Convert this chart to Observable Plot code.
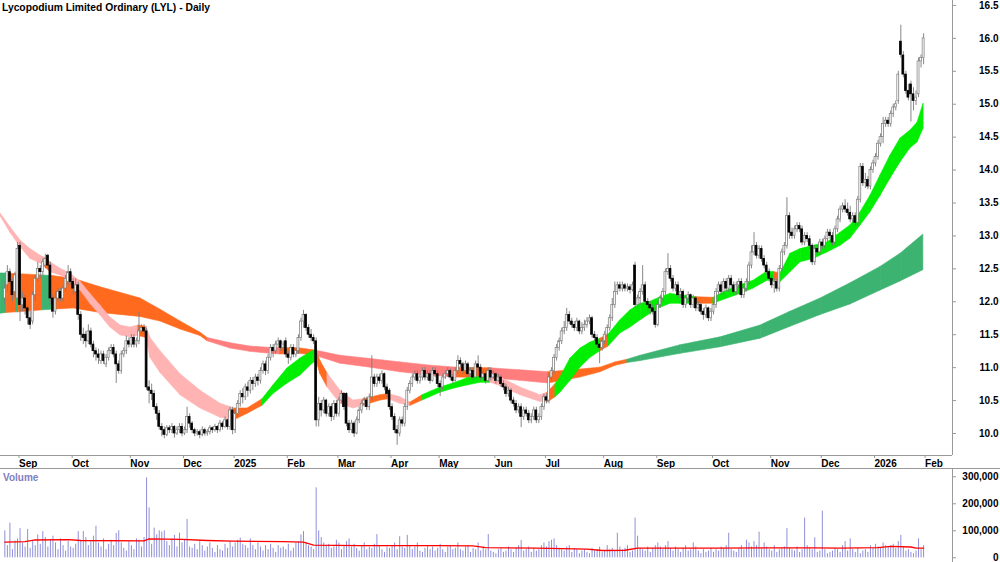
<!DOCTYPE html>
<html><head><meta charset="utf-8">
<script src="https://cdn.jsdelivr.net/npm/d3@7"></script>
<script src="https://cdn.jsdelivr.net/npm/@observablehq/plot@0.6"></script>
<style>
body{margin:0;background:#fff;}
#wrap{position:relative;width:1000px;height:562px;overflow:hidden;}
#title{position:absolute;left:2px;top:3px;font:bold 10.3px "Liberation Sans",Arial,sans-serif;line-height:10px;color:#000;white-space:nowrap;}
#vlabel{position:absolute;left:3px;top:473px;font:bold 10px "Liberation Sans",Arial,sans-serif;line-height:10px;color:#8080c0;}
#sep{position:absolute;left:0;top:468px;width:1000px;height:1px;background:#999;}
svg{display:block;}
</style></head>
<body>
<div id="wrap">
  <div id="chart"></div>
  <div id="title">Lycopodium Limited Ordinary (LYL) - Daily</div>
  <div id="sep"></div>
  <div id="vlabel">Volume</div>
</div>
<script>
// ---- Month axis (trading-day index of first bar in month) ----
const monthIdx = [5,26,49,70,90,111,131,152,171,193,213,236,257,279,302,322,343,363];
const monthLabels = ["Sep","Oct","Nov","Dec","2025","Feb","Mar","Apr","May","Jun","Jul","Aug","Sep","Oct","Nov","Dec","2026","Feb"];
const priceTicks = [10.0,10.5,11.0,11.5,12.0,12.5,13.0,13.5,14.0,14.5,15.0,15.5,16.0,16.5];
const volTicks = [0,100000,200000,300000];

// ---- Daily OHLC ----
const open = [
12.05,12.25,12.45,12.30,12.15,12.05,12.85,11.95,12.05,11.90,
11.75,11.70,12.10,12.35,12.50,12.45,12.55,12.70,12.55,12.05,
11.85,12.05,12.15,12.05,12.20,12.30,12.45,12.30,12.15,12.25,
11.80,11.50,11.50,11.40,11.55,11.35,11.25,11.20,11.10,11.20,
11.05,11.15,11.25,11.30,11.20,11.05,10.95,11.20,11.25,11.40,
11.35,11.45,11.35,11.40,11.55,11.60,11.55,10.70,10.65,10.60,
10.40,10.30,10.10,10.05,9.98,10.08,10.05,10.10,10.00,10.05,
10.10,10.00,10.05,10.25,10.15,10.05,10.00,10.02,9.98,10.05,
10.00,10.02,10.08,10.05,10.10,10.05,10.15,10.10,10.20,10.10,
10.35,10.05,10.30,10.45,10.60,10.55,10.70,10.65,10.80,10.75,
10.85,10.80,10.95,11.05,10.95,11.15,11.30,11.25,11.35,11.40,
11.30,11.40,11.20,11.15,11.30,11.20,11.25,11.45,11.70,11.80,
11.60,11.50,11.45,11.40,10.20,10.45,10.35,10.50,10.30,10.40,
10.25,10.45,10.30,10.50,10.60,10.60,10.15,10.05,10.15,10.00,
10.20,10.35,10.45,10.50,10.40,10.55,10.85,10.75,10.85,10.80,
10.90,10.70,10.65,10.40,10.25,10.05,10.00,10.20,10.15,10.40,
10.65,10.75,10.85,10.90,10.80,10.85,10.95,10.85,10.90,10.80,
10.95,10.90,10.75,10.70,10.85,10.90,10.95,10.85,10.80,10.95,
11.10,11.05,10.95,11.05,10.90,10.95,10.85,11.05,11.00,10.85,
10.90,10.80,10.95,10.85,10.90,10.80,10.85,10.75,10.70,10.60,
10.65,10.50,10.45,10.35,10.40,10.25,10.35,10.30,10.20,10.25,
10.35,10.20,10.25,10.40,10.55,10.50,10.85,10.95,11.15,11.30,
11.40,11.55,11.60,11.80,11.70,11.65,11.60,11.70,11.55,11.60,
11.65,11.70,11.75,11.50,11.45,11.35,11.30,11.40,11.50,11.60,
11.75,11.95,12.15,12.25,12.20,12.25,12.20,12.22,12.18,12.55,
11.95,12.05,12.15,12.25,12.00,11.95,11.90,11.85,11.65,11.95,
12.05,12.15,12.45,12.50,12.35,12.20,12.25,12.10,12.15,11.95,
12.05,12.10,11.95,12.05,11.90,11.95,11.85,11.80,11.90,11.75,
11.85,11.95,12.15,12.25,12.15,12.30,12.20,12.35,12.25,12.15,
12.25,12.30,12.10,12.20,12.30,12.55,12.75,12.85,12.70,12.80,
12.65,12.55,12.45,12.35,12.25,12.30,12.20,12.50,12.75,12.85,
13.30,13.05,13.00,13.10,13.15,13.10,12.90,13.00,12.95,12.85,
12.60,12.80,12.75,12.90,12.85,12.95,13.05,13.00,12.90,13.10,
13.25,13.40,13.45,13.40,13.35,13.25,13.30,13.20,13.55,14.05,
13.80,13.85,13.75,14.00,14.10,14.20,14.40,14.50,14.70,14.75,
14.70,14.85,14.95,15.05,15.95,15.74,15.45,15.20,15.30,15.15,
15.05,15.15,15.65,15.70];
const high = [
12.30,12.55,12.50,12.35,12.45,12.90,12.90,12.15,12.10,11.95,
11.85,12.15,12.40,12.60,12.55,12.65,12.72,12.72,12.60,12.10,
12.15,12.20,12.20,12.25,12.40,12.55,12.50,12.35,12.35,12.30,
11.85,11.60,11.55,11.65,11.60,11.40,11.30,11.28,11.25,11.25,
11.20,11.30,11.35,11.35,11.25,11.10,11.25,11.30,11.48,11.45,
11.50,11.50,11.45,11.84,11.65,11.65,11.60,10.80,10.75,10.65,
10.45,10.35,10.15,10.10,10.12,10.12,10.15,10.12,10.10,10.15,
10.15,10.10,10.40,10.30,10.18,10.08,10.06,10.05,10.10,10.08,
10.06,10.12,10.10,10.14,10.12,10.20,10.18,10.25,10.22,10.40,
10.40,10.35,10.50,10.65,10.68,10.75,10.78,10.85,10.85,10.90,
10.90,11.00,11.10,11.10,11.20,11.35,11.35,11.40,11.45,11.42,
11.40,11.45,11.25,11.35,11.35,11.30,11.50,11.75,11.87,11.82,
11.65,11.58,11.50,11.45,10.55,10.50,10.55,10.52,10.45,10.45,
10.50,10.50,10.55,10.65,10.62,10.62,10.20,10.20,10.18,10.25,
10.40,10.50,10.55,10.55,10.60,11.18,10.90,10.90,10.90,10.95,
10.92,10.75,10.68,10.45,10.30,10.12,10.25,10.25,10.45,10.70,
10.80,10.90,10.95,10.95,10.90,11.00,11.00,10.95,10.95,11.00,
11.00,10.95,10.80,10.90,10.95,11.00,10.98,10.90,11.00,11.18,
11.15,11.08,11.10,11.08,11.00,11.00,11.10,11.18,11.05,10.95,
10.95,11.00,11.00,10.95,10.92,10.90,10.88,10.80,10.75,10.70,
10.68,10.55,10.50,10.45,10.45,10.40,10.40,10.35,10.30,10.40,
10.40,10.30,10.45,10.60,10.60,10.90,11.00,11.20,11.35,11.45,
11.60,11.70,11.90,11.85,11.75,11.70,11.75,11.72,11.68,11.72,
11.76,11.80,11.78,11.55,11.50,11.40,11.45,11.55,11.65,11.80,
12.05,12.30,12.30,12.30,12.30,12.28,12.27,12.26,12.30,12.60,
12.10,12.20,12.55,12.30,12.05,12.00,11.95,11.90,12.00,12.10,
12.20,12.50,12.73,12.55,12.40,12.30,12.30,12.20,12.18,12.10,
12.15,12.12,12.10,12.08,12.00,11.98,11.90,11.95,11.92,11.90,
12.00,12.20,12.30,12.30,12.35,12.35,12.40,12.40,12.30,12.30,
12.35,12.35,12.25,12.35,12.60,12.85,13.05,12.90,12.85,12.85,
12.70,12.60,12.50,12.40,12.35,12.35,12.55,12.80,12.90,13.58,
13.35,13.12,13.15,13.20,13.20,13.15,13.05,13.05,13.00,12.88,
12.85,12.85,12.95,12.95,13.00,13.10,13.10,13.05,13.15,13.30,
13.45,13.50,13.55,13.50,13.45,13.35,13.35,13.60,14.10,14.10,
13.95,13.90,14.05,14.15,14.25,14.45,14.55,14.80,14.80,14.80,
14.90,15.00,15.05,15.50,16.20,15.80,15.50,15.30,15.35,15.25,
15.20,15.70,15.75,16.07];
const low = [
11.95,12.15,12.25,12.00,12.05,11.95,11.70,11.85,11.80,11.65,
11.58,11.65,12.00,12.30,12.35,12.40,12.50,12.50,11.95,11.75,
11.80,12.00,12.00,12.00,12.15,12.25,12.25,12.10,12.10,11.72,
11.40,11.35,11.30,11.35,11.30,11.15,11.10,11.05,11.05,11.05,
11.00,11.10,11.20,11.15,10.76,10.90,10.90,11.15,11.20,11.30,
11.30,11.30,11.30,11.35,11.50,11.50,10.65,10.45,10.50,10.35,
10.20,10.05,9.95,9.92,9.95,10.00,10.00,9.93,9.97,10.00,
9.95,9.97,10.00,10.08,10.00,9.95,9.96,9.92,9.95,9.96,
9.96,9.98,10.00,10.02,10.00,10.02,10.05,10.08,10.05,10.05,
9.98,10.00,10.25,10.40,10.45,10.50,10.55,10.60,10.65,10.70,
10.72,10.75,10.90,10.88,10.90,11.10,11.15,11.20,11.30,11.25,
11.25,11.15,11.05,11.10,11.15,11.15,11.20,11.40,11.60,11.55,
11.45,11.40,11.35,10.10,10.10,10.25,10.30,10.25,10.25,10.18,
10.20,10.25,10.25,10.45,10.35,10.10,10.00,10.00,9.94,9.98,
10.15,10.30,10.40,10.35,10.35,10.50,10.70,10.70,10.75,10.75,
10.65,10.55,10.35,10.20,10.00,9.82,9.95,10.10,10.10,10.35,
10.60,10.70,10.80,10.75,10.75,10.80,10.80,10.80,10.75,10.78,
10.85,10.70,10.56,10.65,10.82,10.85,10.80,10.75,10.78,10.90,
11.00,10.90,10.90,10.85,10.85,10.80,10.82,10.95,10.80,10.82,
10.75,10.78,10.80,10.82,10.75,10.78,10.70,10.65,10.55,10.55,
10.45,10.40,10.30,10.30,10.09,10.20,10.25,10.15,10.15,10.20,
10.15,10.15,10.20,10.35,10.45,10.45,10.80,10.90,11.10,11.25,
11.35,11.50,11.55,11.65,11.60,11.55,11.55,11.50,11.50,11.55,
11.60,11.65,11.45,11.40,11.30,11.06,11.25,11.35,11.45,11.55,
11.70,11.90,12.10,12.15,12.15,12.15,12.15,12.12,12.15,11.90,
11.90,11.95,12.10,11.95,11.85,11.80,11.80,11.60,11.62,11.90,
12.00,12.10,12.40,12.30,12.15,12.15,12.05,12.05,11.90,11.90,
12.00,11.90,11.90,11.85,11.85,11.80,11.72,11.75,11.70,11.70,
11.80,11.90,12.10,12.10,12.10,12.15,12.15,12.20,12.10,12.10,
12.20,12.05,12.05,12.15,12.25,12.50,12.70,12.65,12.65,12.60,
12.50,12.40,12.30,12.20,12.13,12.15,12.15,12.45,12.70,12.80,
12.95,12.95,12.95,13.05,13.05,12.85,12.85,12.90,12.80,12.55,
12.55,12.70,12.70,12.80,12.80,12.90,12.95,12.85,12.85,13.05,
13.20,13.35,13.35,13.30,13.20,13.20,13.15,13.15,13.50,13.75,
13.72,13.70,13.70,13.95,14.05,14.15,14.35,14.40,14.65,14.65,
14.65,14.80,14.90,15.00,15.70,15.40,15.15,15.05,14.73,14.90,
14.98,15.10,15.55,15.60];
const close = [
12.20,12.45,12.30,12.10,12.40,12.80,11.95,12.05,11.90,11.75,
11.65,12.10,12.35,12.50,12.45,12.60,12.65,12.55,12.05,11.85,
12.05,12.15,12.05,12.20,12.35,12.45,12.30,12.20,12.25,11.80,
11.50,11.45,11.40,11.55,11.35,11.25,11.20,11.15,11.20,11.10,
11.15,11.25,11.30,11.20,11.05,10.95,11.20,11.25,11.40,11.35,
11.45,11.35,11.40,11.55,11.60,11.55,10.70,10.65,10.60,10.40,
10.30,10.10,10.05,9.98,10.08,10.05,10.10,10.00,10.05,10.10,
10.00,10.05,10.25,10.15,10.05,10.00,10.02,9.98,10.05,10.00,
10.02,10.08,10.05,10.10,10.05,10.15,10.10,10.20,10.10,10.35,
10.05,10.30,10.45,10.60,10.55,10.70,10.65,10.80,10.75,10.85,
10.80,10.95,11.05,10.95,11.15,11.30,11.25,11.35,11.40,11.30,
11.35,11.20,11.15,11.30,11.20,11.25,11.45,11.70,11.80,11.60,
11.50,11.45,11.40,10.20,10.45,10.35,10.50,10.30,10.40,10.25,
10.45,10.30,10.50,10.60,10.40,10.15,10.05,10.15,10.00,10.20,
10.35,10.45,10.50,10.40,10.55,10.85,10.75,10.85,10.80,10.90,
10.70,10.60,10.40,10.25,10.05,10.00,10.20,10.15,10.40,10.65,
10.75,10.85,10.90,10.80,10.85,10.95,10.85,10.90,10.80,10.95,
10.90,10.75,10.70,10.85,10.90,10.95,10.85,10.80,10.95,11.10,
11.05,10.95,11.05,10.90,10.95,10.85,11.05,11.00,10.85,10.90,
10.80,10.95,10.85,10.90,10.80,10.85,10.75,10.70,10.60,10.65,
10.50,10.45,10.35,10.40,10.25,10.35,10.30,10.20,10.25,10.35,
10.20,10.25,10.40,10.55,10.50,10.85,10.95,11.15,11.30,11.40,
11.55,11.60,11.80,11.70,11.65,11.60,11.70,11.55,11.60,11.65,
11.70,11.75,11.50,11.45,11.35,11.30,11.40,11.50,11.60,11.75,
11.95,12.15,12.25,12.20,12.25,12.20,12.22,12.18,12.25,11.95,
12.05,12.15,12.25,12.00,11.95,11.90,11.85,11.65,11.95,12.05,
12.15,12.45,12.50,12.35,12.20,12.25,12.10,12.15,11.95,12.05,
12.10,11.95,12.05,11.90,11.95,11.85,11.80,11.90,11.75,11.85,
11.95,12.15,12.25,12.15,12.30,12.20,12.35,12.25,12.15,12.25,
12.30,12.10,12.20,12.30,12.55,12.75,12.85,12.70,12.80,12.65,
12.55,12.45,12.35,12.25,12.30,12.20,12.50,12.75,12.85,13.30,
13.05,13.00,13.10,13.15,13.10,12.90,13.00,12.95,12.85,12.60,
12.80,12.75,12.90,12.85,12.95,13.05,13.00,12.90,13.10,13.25,
13.40,13.45,13.40,13.35,13.25,13.30,13.20,13.55,14.05,13.80,
13.85,13.75,14.00,14.10,14.20,14.40,14.50,14.70,14.75,14.70,
14.85,14.95,15.00,15.45,15.75,15.45,15.20,15.10,15.15,15.05,
15.10,15.65,15.70,16.00];

// ---- Daily volume (thousands of shares) ----
const volumeK = [
100,45,128,30,62,70,108,55,40,105,
35,60,45,85,50,97,75,40,65,80,
55,30,70,45,25,60,40,35,50,97,
65,97,75,45,60,80,117,55,40,70,
30,50,65,45,90,100,55,35,25,60,
45,30,70,65,40,75,296,185,50,110,
85,100,95,100,60,45,70,83,40,91,
55,65,142,40,35,50,30,60,45,25,
40,55,35,20,45,30,25,50,35,60,
40,55,65,73,50,45,35,70,45,30,
55,40,25,45,30,50,35,20,45,35,
40,30,50,25,35,55,60,85,97,55,
45,40,30,259,100,75,55,45,50,35,
40,65,55,30,45,60,70,40,50,35,
25,45,55,30,40,35,50,86,45,30,
20,40,35,45,55,30,78,40,35,83,
45,30,40,55,25,20,35,45,30,40,
25,35,50,30,20,40,45,30,35,55,
30,25,40,45,20,35,30,55,25,40,
30,86,25,20,15,30,35,20,25,40,
30,20,35,45,64,25,30,40,20,35,
25,30,45,55,40,60,65,70,45,35,
30,25,40,45,20,35,30,15,25,30,
20,15,35,25,30,40,20,25,45,30,
35,25,91,40,30,35,45,20,25,147,
80,35,30,25,40,20,35,45,55,40,
30,45,60,35,25,40,30,20,35,45,
25,30,55,40,25,15,30,20,25,35,
20,30,25,40,35,45,91,30,25,20,
35,45,30,65,55,40,60,45,95,35,
55,40,30,25,45,20,30,35,40,108,
35,30,25,40,20,30,147,45,35,30,
74,20,25,173,30,15,20,25,35,30,
20,45,60,25,70,30,20,35,15,25,
30,20,45,35,50,40,35,55,45,40,
45,50,35,60,83,40,25,30,20,15,
25,70,30,45];
// volume moving average (thousands), read at these bar indexes
const vmaIdx = [0,8,12,25,30,55,57,70,80,90,110,118,122,140,170,185,190,210,230,236,245,250,280,300,320,330,345,350,358,360,363];
const vmaK   = [58,60,66,67,64,63,70,68,64,62,60,58,47,45,45,44,38,36,32,27,28,36,36,37,37,36,38,42,40,36,36];

// ---- Long-term ribbon (edges read at bar indexes) ----
const ltIdx = [-1.7,0.7,4.6,5.4,14.9,18.8,27.1,37.8,53.6,61.5,69.4,77.3,80.1,89.2,97.0,105.0,108.9,116.8,122.7,132.6,144.5,156.3,168.2,178.8,191.9,203.7,214.8,227.4,235.3,241.3,246.0,251.2,267.0,282.8,298.6,310.4,322.3,334.1,346.0,353.9,362.9];
const ltHi  = [12.43,12.43,12.42,12.42,12.40,12.39,12.35,12.22,12.05,11.88,11.70,11.53,11.45,11.37,11.32,11.30,11.30,11.29,11.26,11.18,11.13,11.08,11.03,11.00,10.99,10.96,10.93,10.97,11.00,11.08,11.12,11.18,11.34,11.46,11.64,11.85,12.05,12.28,12.53,12.73,13.02];
const ltLo  = [11.82,11.83,11.84,11.84,11.87,11.88,11.90,11.83,11.77,11.70,11.58,11.48,11.40,11.29,11.24,11.21,11.20,11.21,11.18,11.06,11.00,10.93,10.88,10.85,10.84,10.80,10.76,10.85,10.93,11.03,11.07,11.10,11.21,11.31,11.44,11.62,11.80,11.96,12.17,12.31,12.48];
const ltState = ["G","O","G","O","G","O","O","O","O","O","O","O","R","R","R","R","O","O","R","R","R","R","R","O","R","R","O","O","O","O","G","G","G","G","G","G","G","G","G","G","G"];

// ---- Short-term ribbon ----
const stIdx = [-1.7,2.2,6.2,10.1,14.1,16.1,18.0,22.0,25.9,29.9,33.8,37.8,41.7,45.7,49.6,52.8,56.0,57.5,61.5,69.4,77.3,85.2,90.7,95.9,101.8,106.1,111.7,116.8,121.6,123.1,124.7,127.5,132.6,137.7,141.7,148.4,151.6,156.3,160.3,165.0,172.1,177.3,182.8,187.9,191.9,195.8,203.7,211.6,214.4,217.6,219.5,223.5,227.4,231.4,235.3,238.5,243.2,247.2,251.2,255.1,259.1,263.0,267.0,272.9,280.0,285.5,290.7,295.8,301.3,304.1,306.5,310.4,314.4,319.5,325.0,330.2,334.1,338.1,342.0,346.0,349.9,353.9,357.8,360.6,363.0];
const stHi  = [13.34,13.13,12.93,12.80,12.70,12.66,12.60,12.50,12.43,12.30,12.12,11.94,11.76,11.64,11.61,11.64,11.62,11.45,11.25,10.90,10.65,10.45,10.38,10.38,10.52,10.73,10.99,11.14,11.25,11.26,11.10,10.91,10.65,10.50,10.52,10.58,10.60,10.55,10.47,10.58,10.70,10.76,10.84,10.86,10.87,10.85,10.70,10.58,10.62,10.75,10.85,11.14,11.29,11.38,11.44,11.50,11.72,11.87,11.97,12.00,12.07,12.12,12.10,12.07,12.06,12.17,12.25,12.32,12.46,12.45,12.43,12.73,12.80,12.85,12.90,13.05,13.16,13.36,13.61,13.92,14.22,14.48,14.60,14.72,15.01];
const stLo  = [13.30,13.05,12.83,12.65,12.58,12.52,12.45,12.40,12.32,12.17,11.97,11.79,11.61,11.49,11.46,11.48,11.45,11.15,10.92,10.58,10.38,10.24,10.20,10.30,10.42,10.60,10.76,10.88,11.06,11.10,10.90,10.70,10.45,10.38,10.42,10.50,10.52,10.45,10.42,10.50,10.62,10.68,10.73,10.77,10.77,10.72,10.58,10.48,10.47,10.55,10.62,10.80,11.00,11.15,11.25,11.32,11.52,11.61,11.72,11.82,11.91,11.97,11.97,11.97,11.97,12.05,12.12,12.20,12.32,12.32,12.30,12.45,12.60,12.65,12.75,12.85,12.96,13.16,13.36,13.61,13.87,14.12,14.33,14.42,14.63];
const stState = [..."PPPPP" + "O" + "PPPPPPPPP" + "O" + "PPPPPP" + "OO" + "GGGGG" + "OO" + "PPP" + "OO" + "PP" + "O" + "GGGGG" + "PPPP" + "O" + "GGGGG" + "O" + "GGGGGGGG" + "O" + "GGGGG" + "O" + "GGGGGGGGGGGGGGG"];

// ---- palettes ----
const stPal = {P: "#ffb3b3", O: "#ff6a1f", G: "#00ee00"};
const ltPal = {G: "#3cb371", O: "#ff6a1f", R: "#ff7d7d"};

// ---- tables ----
const bars = close.map((c, i) => ({i, o: open[i], h: high[i], l: low[i], c, up: c >= open[i]}));
const vbars = volumeK.map((v, i) => ({i, v: v * 1000}));
const vma = vmaIdx.map((i, k) => ({i, v: vmaK[k] * 1000}));
function ribbonSegs(idx, hi, lo, st, pal) {
  const out = [];
  for (let k = 0; k < idx.length - 1; k++) {
    const col = pal[st[k]];
    out.push({seg: k, x: idx[k], hi: hi[k], lo: lo[k], col});
    out.push({seg: k, x: idx[k + 1], hi: hi[k + 1], lo: lo[k + 1], col});
  }
  return out;
}
const ltSegs = ribbonSegs(ltIdx, ltHi, ltLo, ltState, ltPal);
const stSegs = ribbonSegs(stIdx, stHi, stLo, stState, stPal);

const xDomain = [-1.719, 374.42];
const style = {fontFamily: '"Liberation Sans", Arial, sans-serif', fontSize: "10px", fontWeight: "bold", background: "#fff", color: "#000"};
const half = 0.38;

const price = Plot.plot({
  width: 1000, height: 469,
  marginLeft: 0, marginRight: 48, marginTop: 0, marginBottom: 14,
  x: {domain: xDomain, axis: null, label: null},
  y: {domain: [9.666, 16.575], axis: null, label: null},
  color: {type: "identity"},
  style,
  marks: [
    Plot.areaY(ltSegs, {x: "x", y1: "lo", y2: "hi", z: "seg", fill: "col", stroke: "col", strokeWidth: 0.6}),
    Plot.areaY(stSegs, {x: "x", y1: "lo", y2: "hi", z: "seg", fill: "col", stroke: "col", strokeWidth: 0.6}),
    Plot.ruleX(bars, {x: "i", y1: "l", y2: "h", stroke: "#7a7a7a", strokeWidth: 0.9}),
    Plot.rect(bars, {
      x1: d => d.i - half, x2: d => d.i + half,
      y1: d => Math.min(d.o, d.c), y2: d => Math.max(d.o, d.c),
      fill: d => d.up ? "#ffffff" : "#000000",
      stroke: d => d.up ? "#7a7a7a" : "#000000", strokeWidth: 0.7
    }),
    Plot.ruleY([9.666], {stroke: "#999"}),
    Plot.ruleX([xDomain[1]], {stroke: "#999"}),
    Plot.axisX(monthIdx, {anchor: "bottom", label: null, tickSize: 3, tickPadding: 1, textAnchor: "start", dx: 1.5,
      tickFormat: d => monthLabels[monthIdx.indexOf(d)], stroke: "#999"}),
    Plot.axisY(priceTicks, {anchor: "right", label: null, tickSize: 3, tickPadding: 43, textAnchor: "end",
      tickFormat: d => d.toFixed(1), stroke: "#999"})
  ]
});

const vol = Plot.plot({
  width: 1000, height: 93,
  marginLeft: 0, marginRight: 48, marginTop: 0, marginBottom: 0,
  x: {domain: xDomain, axis: null, label: null},
  y: {domain: [-17400, 327000], axis: null, label: null},
  style,
  marks: [
    Plot.ruleX(vbars, {x: "i", y1: 0, y2: "v", stroke: "#8f8fd9", strokeWidth: 1}),
    Plot.line(vma, {x: "i", y: "v", stroke: "#ff0000", strokeWidth: 1.3}),
    Plot.ruleX([xDomain[1]], {stroke: "#999"}),
    Plot.axisY(volTicks, {anchor: "right", label: null, tickSize: 3, tickPadding: 43, textAnchor: "end",
      tickFormat: d3.format(","), stroke: "#999"})
  ]
});

const chart = document.getElementById("chart");
chart.appendChild(price);
chart.appendChild(vol);
</script>
</body></html>
